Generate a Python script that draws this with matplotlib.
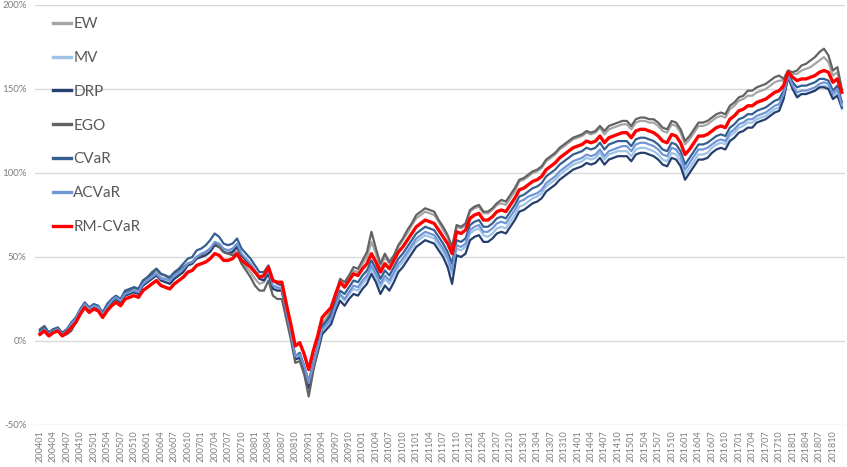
import numpy as np
import matplotlib
matplotlib.use("Agg")
import matplotlib.pyplot as plt

# monthly cumulative returns (%) 2004-01 .. 2018-12
months = [f"{y}{m:02d}" for y in range(2004, 2019) for m in range(1, 13)]

ew = [6, 8, 5, 7, 7, 4, 5, 8, 12, 18,
      22, 19, 21, 20, 16, 20, 24, 26, 24, 28,
      29, 31, 30, 34, 37, 39, 41, 38, 37, 36,
      39, 41, 43, 46, 47, 50, 51, 52, 54, 57,
      56, 53, 52, 52, 54, 48, 44, 41, 37, 34,
      35, 40, 31, 30, 30, 17, 4, -10, -9, -16,
      -27, -14, -3, 10, 14, 18, 27, 35, 33, 37,
      42, 41, 46, 50, 59, 52, 44, 50, 46, 50,
      56, 60, 64, 69, 73, 75, 77, 76, 75, 71,
      66, 62, 55, 68, 67, 69, 77, 79, 80, 76,
      76, 78, 81, 82, 81, 85, 89, 95, 96, 98,
      100, 101, 103, 107, 109, 111, 114, 116, 118, 120,
      121, 122, 124, 123, 124, 127, 123, 126, 127, 128,
      129, 129, 126, 130, 131, 131, 130, 130, 128, 125,
      124, 129, 128, 124, 117, 120, 124, 128, 128, 129,
      131, 133, 134, 133, 138, 140, 143, 144, 146, 146,
      148, 149, 150, 152, 154, 155, 155, 161, 159, 159,
      161, 162, 163, 165, 167, 169, 166, 158, 160, 148]

mv = [5, 7, 4, 6, 7, 4, 6, 9, 13, 18,
      22, 19, 21, 20, 16, 20, 23, 25, 24, 28,
      29, 30, 29, 33, 35, 37, 40, 37, 36, 35,
      38, 40, 42, 45, 46, 50, 51, 52, 54, 58,
      57, 54, 53, 54, 57, 51, 48, 45, 41, 37,
      37, 41, 32, 31, 30, 17, 4, -10, -9, -16,
      -26, -15, -5, 6, 9, 12, 20, 27, 24, 28,
      31, 30, 34, 37, 43, 38, 32, 37, 34, 39,
      44, 47, 51, 55, 59, 61, 63, 62, 61, 57,
      53, 48, 40, 55, 54, 56, 64, 66, 67, 63,
      62, 64, 67, 68, 67, 71, 75, 80, 81, 83,
      85, 86, 88, 92, 94, 96, 99, 101, 103, 105,
      106, 107, 109, 108, 109, 112, 108, 111, 112, 113,
      113, 113, 110, 114, 115, 115, 114, 113, 111, 108,
      107, 112, 111, 107, 99, 103, 107, 111, 111, 112,
      115, 117, 118, 117, 122, 124, 127, 128, 130, 130,
      132, 133, 134, 136, 138, 139, 146, 158, 151, 146,
      147, 147, 148, 149, 151, 152, 151, 145, 148, 138]

drp = [4, 6, 3, 6, 7, 4, 6, 9, 12, 17,
       21, 18, 20, 19, 15, 19, 23, 25, 23, 27,
       28, 29, 28, 33, 35, 37, 39, 36, 35, 34,
       37, 39, 41, 45, 46, 49, 50, 51, 53, 57,
       56, 53, 52, 53, 56, 51, 48, 45, 41, 37,
       36, 40, 31, 30, 30, 16, 3, -11, -10, -18,
       -28, -17, -7, 4, 7, 10, 18, 24, 21, 25,
       28, 27, 31, 34, 40, 35, 28, 33, 30, 35,
       41, 44, 48, 52, 56, 58, 60, 59, 58, 54,
       50, 44, 34, 51, 50, 52, 60, 62, 63, 59,
       59, 61, 64, 65, 64, 68, 72, 77, 78, 80,
       82, 83, 85, 89, 91, 93, 96, 98, 100, 102,
       103, 104, 106, 105, 106, 109, 105, 108, 109, 110,
       110, 110, 107, 111, 112, 112, 111, 110, 108, 105,
       104, 109, 108, 104, 96, 100, 104, 108, 108, 109,
       112, 114, 115, 114, 119, 121, 124, 125, 127, 127,
       130, 131, 132, 134, 136, 137, 144, 157, 150, 145,
       147, 147, 148, 149, 151, 151, 150, 144, 146, 139]

ego = [7, 9, 5, 7, 8, 3, 4, 6, 11, 18,
       22, 19, 21, 20, 16, 20, 24, 26, 24, 29,
       30, 32, 31, 36, 38, 41, 43, 40, 39, 37,
       40, 42, 44, 46, 47, 50, 51, 53, 55, 58,
       56, 53, 52, 51, 52, 46, 42, 38, 33, 30,
       30, 36, 27, 25, 25, 13, 1, -13, -12, -20,
       -33, -18, -5, 8, 12, 17, 28, 37, 35, 39,
       44, 43, 48, 53, 65, 55, 46, 52, 47, 51,
       57, 61, 66, 70, 75, 77, 79, 78, 77, 72,
       68, 63, 56, 69, 68, 70, 78, 80, 81, 77,
       77, 79, 82, 84, 83, 87, 91, 96, 97, 99,
       101, 102, 104, 108, 110, 112, 115, 117, 119, 121,
       122, 123, 125, 124, 125, 128, 125, 128, 129, 130,
       131, 131, 128, 132, 133, 133, 132, 132, 130, 127,
       126, 131, 130, 126, 119, 122, 126, 130, 130, 131,
       133, 135, 136, 135, 140, 142, 145, 146, 149, 149,
       151, 152, 153, 155, 157, 158, 156, 161, 160, 161,
       164, 165, 167, 169, 172, 174, 170, 161, 163, 150]

cvar = [6, 8, 5, 7, 8, 5, 7, 11, 14, 19,
        23, 20, 22, 21, 17, 22, 25, 27, 25, 30,
        31, 32, 31, 36, 38, 40, 43, 40, 39, 38,
        41, 43, 46, 49, 50, 54, 55, 57, 60, 64,
        62, 58, 57, 58, 61, 55, 52, 49, 45, 41,
        41, 45, 36, 34, 33, 19, 5, -9, -7, -15,
        -24, -13, -3, 9, 12, 15, 23, 30, 28, 32,
        36, 35, 39, 42, 48, 43, 37, 42, 39, 44,
        49, 52, 56, 60, 64, 66, 68, 67, 66, 62,
        58, 53, 46, 60, 59, 61, 69, 71, 72, 68,
        68, 70, 73, 74, 73, 77, 81, 86, 87, 89,
        91, 92, 94, 98, 100, 102, 105, 107, 109, 111,
        112, 113, 115, 114, 115, 118, 114, 117, 118, 119,
        119, 119, 116, 120, 121, 121, 120, 119, 117, 114,
        113, 118, 117, 113, 105, 109, 113, 117, 117, 118,
        120, 122, 123, 122, 127, 129, 132, 133, 135, 135,
        137, 138, 139, 141, 143, 144, 149, 159, 154, 151,
        152, 152, 153, 154, 156, 156, 155, 149, 152, 142]

acvar = [5, 7, 4, 6, 7, 4, 6, 10, 13, 18,
         22, 19, 21, 20, 16, 20, 24, 26, 24, 28,
         29, 30, 29, 34, 36, 38, 40, 37, 37, 36,
         39, 41, 43, 46, 47, 50, 52, 53, 55, 59,
         58, 55, 54, 55, 58, 52, 49, 46, 42, 38,
         38, 42, 33, 32, 31, 18, 5, -9, -8, -15,
         -25, -14, -4, 7, 10, 13, 21, 28, 25, 29,
         33, 32, 36, 39, 45, 40, 34, 39, 36, 41,
         46, 49, 53, 57, 61, 63, 65, 64, 63, 59,
         55, 50, 42, 57, 56, 58, 66, 68, 69, 65,
         65, 67, 70, 71, 70, 74, 78, 83, 84, 86,
         87, 88, 90, 94, 96, 98, 101, 103, 105, 107,
         108, 109, 111, 110, 111, 114, 110, 113, 114, 115,
         116, 116, 113, 117, 118, 118, 117, 116, 114, 111,
         110, 115, 114, 110, 102, 106, 110, 114, 114, 115,
         117, 119, 120, 119, 124, 126, 129, 130, 132, 132,
         134, 135, 136, 138, 140, 141, 147, 158, 152, 148,
         149, 149, 150, 151, 153, 154, 153, 147, 150, 140]

rm_cvar = [4, 6, 3, 5, 6, 3, 5, 8, 11, 16,
           20, 17, 19, 18, 14, 18, 21, 23, 21, 25,
           26, 27, 26, 30, 32, 34, 36, 33, 32, 31,
           34, 36, 38, 41, 42, 45, 46, 47, 49, 52,
           51, 48, 48, 49, 52, 48, 46, 44, 41, 38,
           39, 44, 36, 35, 35, 22, 10, -3, -1, -8,
           -17, -6, 3, 14, 17, 20, 28, 35, 32, 36,
           40, 39, 43, 46, 52, 47, 41, 46, 43, 48,
           53, 56, 60, 64, 68, 70, 72, 71, 70, 66,
           62, 58, 52, 65, 64, 66, 73, 75, 76, 72,
           72, 74, 77, 78, 77, 81, 85, 90, 91, 93,
           95, 96, 98, 102, 104, 106, 109, 111, 113, 115,
           116, 117, 119, 118, 119, 122, 118, 121, 122, 123,
           124, 124, 121, 125, 126, 126, 125, 124, 122, 119,
           118, 123, 122, 118, 111, 114, 118, 122, 122, 123,
           125, 127, 128, 127, 132, 134, 137, 138, 140, 140,
           142, 143, 144, 146, 148, 149, 152, 160, 157, 155,
           156, 156, 157, 158, 160, 161, 160, 154, 156, 148]

series = [
    ("EW", ew, "#A5A5A5", 1.6),
    ("MV", mv, "#9DC3E6", 1.6),
    ("DRP", drp, "#263F6E", 1.6),
    ("EGO", ego, "#636363", 1.6),
    ("CVaR", cvar, "#335F92", 1.6),
    ("ACVaR", acvar, "#7096D8", 1.6),
    ("RM-CVaR", rm_cvar, "#FF0000", 2.4),
]

plt.rcParams["font.family"] = ["Lato", "DejaVu Sans"]

fig = plt.figure(figsize=(8.47, 4.67), dpi=100)
ax = fig.add_axes([35 / 847, 1 - 425 / 467, 810 / 847, 420 / 467])

x = np.arange(len(months))
for name, vals, col, lw in series:
    ax.plot(x, vals, color=col, lw=lw, label=name, solid_joinstyle="round")

ax.set_ylim(-50, 200)
ax.set_xlim(-1.1, 179.7)
ax.set_yticks(np.arange(-50, 201, 50))
ax.set_yticklabels([f"{v}%" for v in range(-50, 201, 50)], color="#7F7F7F", fontsize=7)
ax.set_xticks(x[::3])
ax.set_xticklabels(months[::3], rotation=90, color="#7F7F7F", fontsize=6.6)
ax.grid(axis="y", color="#D9D9D9", lw=1)
ax.set_axisbelow(True)
for s in ax.spines.values():
    s.set_visible(False)
ax.tick_params(length=0, pad=4)
ax.tick_params(axis="y", pad=6)

leg = ax.legend(loc="upper left", bbox_to_anchor=(53 / 847, 1 - 17 / 467),
                bbox_transform=fig.transFigure, frameon=False, fontsize=11,
                labelspacing=1.3, handlelength=1.2, handletextpad=0.12,
                borderpad=0, borderaxespad=0)
for t in leg.get_texts():
    t.set_color("#595959")
for h in leg.get_lines():
    h.set_linewidth(2.4)

fig.savefig("out.png", dpi=100)
